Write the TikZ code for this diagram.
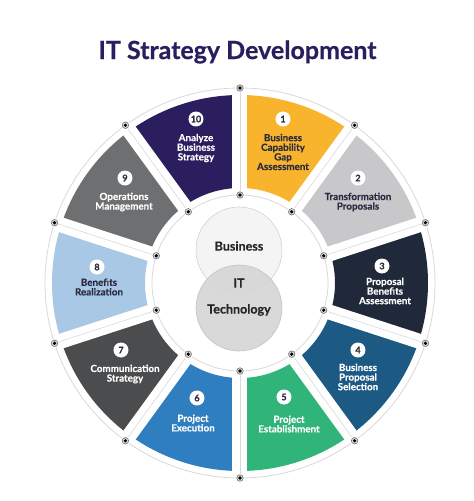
\documentclass[tikz,border=0pt]{standalone}
\usepackage{fontspec}
\setmainfont{Lato}
\newfontfamily\heavyfont{Lato}[BoldFeatures={FakeBold=0.6}]
\newfontfamily\semifont{Lato}[BoldFeatures={FakeBold=0.3}]
\definecolor{titlec}{HTML}{2B1E5E}
\definecolor{cA}{HTML}{F8B42C}
\definecolor{cB}{HTML}{C8C8CA}
\definecolor{cC}{HTML}{1F293A}
\definecolor{cD}{HTML}{1C5A84}
\definecolor{cE}{HTML}{30B47A}
\definecolor{cF}{HTML}{2F7EC0}
\definecolor{cG}{HTML}{4B4C4E}
\definecolor{cH}{HTML}{A8C8E5}
\definecolor{cI}{HTML}{6E6F71}
\definecolor{cJ}{HTML}{2B1E5E}
\definecolor{darktxt}{HTML}{2A2B40}
\definecolor{ringc}{HTML}{D9D9DB}
\definecolor{busfill}{HTML}{F4F4F4}
\definecolor{busdraw}{HTML}{D2D2D2}
\definecolor{techfill}{HTML}{D6D6D6}
\definecolor{techdraw}{HTML}{C4C4C4}
\tikzset{
  segtext/.style={align=center, font=\semifont\fontsize{9.8}{9.6}\selectfont\bfseries},
  numbox/.style={circle, fill=white, inner sep=0pt, minimum size=15pt, text=darktxt, font=\semifont\fontsize{9}{9}\selectfont\bfseries},
  ringline/.style={draw=ringc, line width=0.8pt},
  venntext/.style={text=black!85, font=\semifont\fontsize{12.5}{12.5}\selectfont\bfseries}
}
\begin{document}
\begin{tikzpicture}[x=1pt,y=1pt]
\useasboundingbox (-240,-218) rectangle (234,283);
\fill[white] (-240,-218) rectangle (234,283);
% title
\node[text=titlec, font=\heavyfont\fontsize{25}{25}\selectfont\bfseries] (title) at (-2.5,231) {IT Strategy Development};
% segments
\foreach \k/\col in {1/cA,2/cB,3/cC,4/cD,5/cE,6/cF,7/cG,8/cH,9/cI,10/cJ}{
  \pgfmathsetmacro{\aa}{90-36*(\k-1)}
  \pgfmathsetmacro{\ab}{\aa-36}
  \fill[\col] (\aa:95) arc[start angle=\aa, end angle=\ab, radius=95] -- (\ab:188) arc[start angle=\ab, end angle=\aa, radius=188] -- cycle;
}
% white gaps
\foreach \i in {0,...,9}{
  \draw[white, line width=15pt] (90-36*\i:86) -- (90-36*\i:192);
}
% rings
\draw[ringline] (0,0) circle[radius=195];
\draw[ringline] (0,0) circle[radius=88];
\foreach \i in {0,...,9}{
  \draw[ringline, line width=0.6pt] (90-36*\i:88) -- (90-36*\i:195);
}
% dots
\foreach \i in {0,...,9}{
  \foreach \r in {195,88}{
    \fill[white] (90-36*\i:\r) circle[radius=4.6];
    \fill[black!55] (90-36*\i:\r) circle[radius=3.6];
    \fill[black!15] (90-36*\i:\r) circle[radius=2.8];
    \fill[black] (90-36*\i:\r) circle[radius=1.8];
  }
}
% numbers and texts
\foreach \k/\nx/\ny/\tx/\ty/\tc/\txt in {
  1/43/164/43/131/darktxt/{Business\\Capability\\Gap\\Assessment},
  2/118/105/118/81/darktxt/{Transformation\\Proposals},
  3/142/17/145/-8/white/{Proposal\\Benefits\\Assessment},
  4/118/-67/118/-94/white/{Business\\Proposal\\Selection},
  5/44/-114/49/-141/white/{Project\\Establishment},
  6/-43/-115/-47/-140/white/{Project\\Execution},
  7/-119/-67/-115/-91/white/{Communication\\Strategy},
  8/-143/16/-141/-4/darktxt/{Benefits\\Realization},
  9/-115/105/-116/81/white/{Operations\\Management},
  10/-44/164/-44/135/white/{Analyze\\Business\\Strategy}}{
  \node[numbox] (n\k) at (\nx,\ny) {\k};
  \node[segtext, text=\tc] (t\k) at (\tx,\ty) {\txt};
}
% Venn
\draw[fill=busfill, draw=busdraw, line width=0.6pt] (-1,33) circle[radius=43];
\draw[fill=techfill, fill opacity=0.92, draw=techdraw, line width=0.6pt] (-1,-25) circle[radius=43];
\node[venntext] (bus) at (-1,37) {Business};
\node[venntext] (it) at (-1,0) {IT};
\node[venntext] (tech) at (-1,-27) {Technology};
\end{tikzpicture}
\end{document}
